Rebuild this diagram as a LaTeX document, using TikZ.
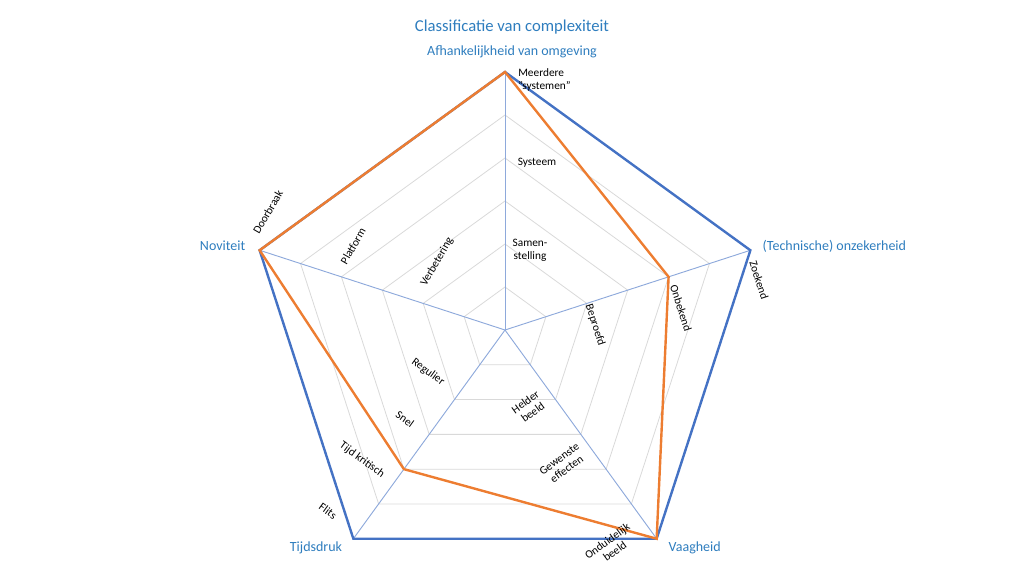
\documentclass[tikz,border=0pt]{standalone}
\usepackage{fontspec}
\setmainfont{Carlito}
\usetikzlibrary{calc}
\definecolor{lblue}{RGB}{46,125,190}
\definecolor{gridc}{RGB}{217,217,217}
\definecolor{axisc}{RGB}{142,169,219}
\definecolor{outerb}{RGB}{68,114,196}
\definecolor{orng}{RGB}{237,125,49}
\begin{document}
\begin{tikzpicture}[x=0.75pt,y=0.75pt,
  axlbl/.style={text=lblue,font=\fontsize{10.5}{12}\selectfont},
  tick/.style={font=\fontsize{8.5}{9.5}\selectfont,align=center,inner sep=0pt},
  gridline/.style={draw=gridc,line width=0.6pt},
  axisline/.style={draw=axisc,line width=0.7pt}]
\useasboundingbox (0,0) rectangle (1024,576);
\coordinate (c) at (505,246);
\foreach \k in {1,...,6}{
  \draw[gridline] ($(c)+(90:43*\k)$) -- ($(c)+(18:43*\k)$) -- ($(c)+(-54:43*\k)$) -- ($(c)+(-126:43*\k)$) -- ($(c)+(162:43*\k)$) -- cycle;
}
\foreach \a/\n in {90/vt,18/vr,-54/vbr,-126/vbl,162/vl}{
  \coordinate (\n) at ($(c)+(\a:258)$);
  \draw[axisline] (c) -- (\n);
}
\draw[outerb,line width=1.8pt,line join=miter] (vt) -- (vr) -- (vbr) -- (vbl) -- (vl) -- cycle;
\coordinate (o2) at ($(c)+(18:172)$);
\coordinate (o4) at ($(c)+(-126:172)$);
\draw[orng,line width=1.8pt,line join=miter] (vt) -- (o2) -- (vbr) -- (o4) -- (vl) -- cycle;
\node (title) at (512,549) {\fontsize{12.5}{14}\selectfont\color{lblue}Classificatie van complexiteit};
\node[axlbl] (a1) at (512,524) {Afhankelijkheid van omgeving};
\node[axlbl,anchor=west] (a2) at (758,330) {(Technische) onzekerheid};
\node[axlbl,anchor=east] (a3) at (250,330) {Noviteit};
\node[axlbl] (a4) at (316,28) {Tijdsdruk};
\node[axlbl,anchor=west] (a5) at (664,28) {Vaagheid};
\node[tick,align=left,anchor=west] (t1) at (518,496) {Meerdere\\”systemen”};
\node[tick] (t2) at (537,413) {Systeem};
\node[tick] (t3) at (530,326) {Samen-\\stelling};
\node[tick,rotate=60] (l1) at (268,364) {Doorbraak};
\node[tick,rotate=60] (l2) at (353,330) {Platform};
\node[tick,rotate=60] (l3) at (437,314) {Verbetering};
\node[tick,rotate=-72] (r1) at (759,296) {Zoekend};
\node[tick,rotate=-72] (r2) at (681,268) {Onbekend};
\node[tick,rotate=-72] (r3) at (595,251) {Beproefd};
\node[tick,rotate=36] (b1) at (611,30) {Onduidelijk\\beeld};
\node[tick,rotate=36] (b2) at (563,112) {Gewenste\\effecten};
\node[tick,rotate=36] (b3) at (529,169) {Helder\\beeld};
\node[tick,rotate=-36] (s1) at (328,65) {Flits};
\node[tick,rotate=-36] (s2) at (362,116) {Tijd kritisch};
\node[tick,rotate=-36] (s3) at (405,157) {Snel};
\node[tick,rotate=-36] (s4) at (428,204) {Regulier};
\end{tikzpicture}
\end{document}
